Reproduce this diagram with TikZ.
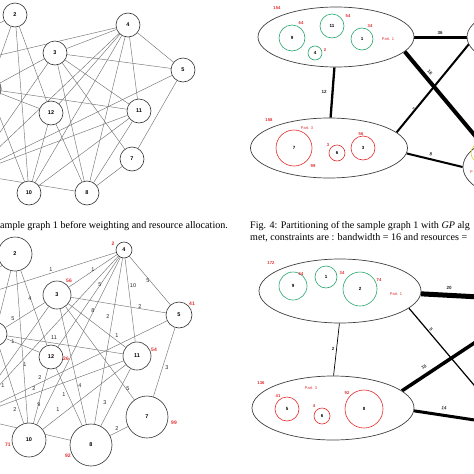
\documentclass[tikz,border=0pt]{standalone}
\usepackage{fontspec}
\setmainfont{Liberation Serif}
\newfontfamily\lsans{Liberation Sans}
\usetikzlibrary{shapes.geometric,backgrounds}
\definecolor{pred}{RGB}{225,45,45}
\definecolor{pgreen}{RGB}{40,165,110}
\definecolor{pyellow}{RGB}{225,205,70}
\definecolor{ecol}{RGB}{115,115,115}
\begin{document}
\begin{tikzpicture}[x=1pt,y=-1pt,
  vtx/.style={circle,draw=black!80,line width=0.6pt,fill=white,inner sep=0pt,minimum size=#1*2pt,font=\lsans\bfseries\fontsize{5.5}{6}\selectfont},
  gedge/.style={draw=ecol,line width=0.45pt},
  wlab/.style={font=\lsans\fontsize{5.5}{6}\selectfont,inner sep=0pt,text=black!85},
  rlab/.style={font=\lsans\bfseries\fontsize{5}{6}\selectfont,inner sep=0pt,text=pred},
  part/.style={ellipse,draw=black!75,line width=0.7pt,fill=white,inner sep=0pt},
  gcirc/.style={circle,draw=pgreen,line width=0.6pt,inner sep=0pt,minimum size=#1*2pt,font=\lsans\bfseries\fontsize{4.5}{5}\selectfont},
  rcirc/.style={circle,draw=pred,line width=0.6pt,inner sep=0pt,minimum size=#1*2pt,font=\lsans\bfseries\fontsize{4.5}{5}\selectfont},
  plab/.style={font=\lsans\bfseries\fontsize{4.2}{5}\selectfont,inner sep=0pt,text=pred},
  ptxt/.style={font=\lsans\fontsize{4}{5}\selectfont,inner sep=0pt,text=pred},
  blab/.style={font=\lsans\bfseries\fontsize{4.5}{5}\selectfont,inner sep=0pt,text=black!85},
  link/.style={draw=black,line width=#1pt},
  capt/.style={font=\fontsize{10.1}{12}\selectfont,inner sep=0pt,anchor=base west}
]
\useasboundingbox (0,0) rectangle (474,474);
\clip (0,0) rectangle (474,474);

% ---------------- upper left graph ----------------
\node[vtx=12] (a2) at (15,15) {2};
\node[vtx=12] (a4) at (128,25) {4};
\node[vtx=12] (a3) at (55,53) {3};
\node[vtx=12] (a5) at (183,70) {5};
\node[vtx=12] (a12) at (51,113) {12};
\node[vtx=12] (a11) at (139,111) {11};
\node[vtx=12] (a7) at (132,159) {7};
\node[vtx=12] (a10) at (29,193) {10};
\node[vtx=12] (a8) at (87,193) {8};
\node[vtx=12,draw=black!55,line width=1.2pt] (a1) at (-11,89) {};
\node[vtx=12] (a9) at (-107,80) {};
\node[vtx=12] (a6) at (-29,174) {};
\begin{pgfonlayer}{background}
\clip (0,0) rectangle (474,474);
\foreach \u/\v in {2/9,2/1,2/10,2/12,4/9,4/3,4/12,4/10,4/8,4/11,4/5,4/6,
  3/5,3/1,3/11,3/8,3/7,3/6,1/12,1/11,1/10,5/6,5/7,11/6,11/8,11/10,12/8,12/10,7/8,6/8}
  \draw[gedge] (a\u) -- (a\v);
\end{pgfonlayer}

% ---------------- lower left graph ----------------
\node[vtx=17] (b2) at (15,254) {2};
\node[vtx=8] (b4) at (124,250) {4};
\node[vtx=14] (b3) at (57,295) {3};
\node[vtx=13] (b5) at (179,315) {5};
\node[vtx=12] (b12) at (51,357) {12};
\node[vtx=14] (b11) at (137,356) {11};
\node[vtx=21] (b7) at (147,417) {7};
\node[vtx=17] (b10) at (29,440) {10};
\node[vtx=21] (b8) at (91,445) {8};
\node[vtx=12] (b1) at (-5,334) {};
\node[vtx=12] (b9) at (-40,302) {};
\node[vtx=12] (b6) at (-30,417) {};
\begin{pgfonlayer}{background}
\clip (0,0) rectangle (474,474);
\foreach \u/\v in {2/9,2/1,2/10,2/12,4/9,4/3,4/12,4/10,4/8,4/11,4/5,4/6,
  3/5,3/1,3/11,3/8,3/7,3/6,1/12,1/11,1/10,5/6,5/7,11/6,11/8,11/10,12/8,12/10,7/8,6/8}
  \draw[gedge] (b\u) -- (b\v);
\end{pgfonlayer}
% resources
\node[rlab] at (113,244) {2};
\node[rlab] at (69,281) {56};
\node[rlab] at (192,304) {41};
\node[rlab] at (154,350) {54};
\node[rlab] at (66,359) {26};
\node[rlab] at (174,423) {99};
\node[rlab] at (68,456) {92};
\node[rlab] at (8,445) {71};
% weights
\node[wlab] at (51,270) {1};
\node[wlab] at (93,270) {1};
\node[wlab] at (100,285) {5};
\node[wlab] at (133,286) {10};
\node[wlab] at (148,281) {5};
\node[wlab] at (140,307) {2};
\node[wlab] at (30,299) {4};
\node[wlab] at (93,311) {8};
\node[wlab] at (108,317) {2};
\node[wlab] at (13,319) {5};
\node[wlab] at (54,338) {11};
\node[wlab] at (13,342) {1};
\node[wlab] at (117,336) {1};
\node[wlab] at (25,365) {1};
\node[wlab] at (40,378) {2};
\node[wlab] at (3,386) {1};
\node[wlab] at (34,389) {2};
\node[wlab] at (80,386) {4};
\node[wlab] at (64,395) {1};
\node[wlab] at (167,368) {3};
\node[wlab] at (128,389) {5};
\node[wlab] at (39,405) {9};
\node[wlab] at (58,410) {1};
\node[wlab] at (15,410) {2};
\node[wlab] at (105,403) {3};
\node[wlab] at (117,429) {2};

% ---------------- upper right partition ----------------
\node[part,minimum width=156pt,minimum height=66pt] (u2) at (545,37) {};
\node[part,minimum width=154pt,minimum height=72pt] (u4) at (540,167) {};
\node[part,minimum width=156pt,minimum height=60pt] (u1) at (336,37) {};
\node[part,minimum width=157pt,minimum height=60pt] (u3) at (329,148) {};
\begin{pgfonlayer}{background}
\clip (0,0) rectangle (474,474);
\draw[link=3] (u1.east) -- (u2.west);
\draw[link=4] (u1.-12) -- (u4.158);
\draw[link=2.3] (u1.-93) -- (u3.87);
\draw[link=2] (u3.13.6) -- (u2.152);
\draw[link=2] (u3.-4) -- (u4.west);
\end{pgfonlayer}
\node[gcirc=13] (u9) at (292,38) {9};
\node[gcirc=12] (u11) at (332,26) {11};
\node[gcirc=11] (uo1) at (362,39) {1};
\node[gcirc=7] (uo4) at (315,53) {4};
\node[plab] at (277,8) {154};
\node[plab] at (301,23) {64};
\node[plab] at (348,16) {54};
\node[plab] at (370,26) {34};
\node[plab] at (325,50) {2};
\node[ptxt] at (388,39) {Part. 1};
\node[rcirc=18] (u7) at (294,148) {7};
\node[rcirc=8] (u6) at (337,153) {6};
\node[rcirc=12] (uo3) at (363,148) {3};
\node[plab] at (269,120) {158};
\node[ptxt] at (307,128) {Part. 3};
\node[plab] at (313,166) {99};
\node[plab] at (328,145) {3};
\node[plab] at (361,134) {56};
\node[circle,draw=pyellow,line width=0.6pt,minimum size=20pt,inner sep=0pt] (uy) at (481,153) {};
\node[ptxt,anchor=west] at (470,172) {P};
\node[blab] at (440,33) {36};
\node[blab,rotate=-49] at (430,72) {16};
\node[blab] at (324,92) {12};
\node[blab,rotate=34] at (414,110) {7};
\node[blab,rotate=-12] at (431,154) {8};

% ---------------- lower right partition ----------------
\node[part,minimum width=160pt,minimum height=70pt] (l2) at (560,297) {};
\node[part,minimum width=160pt,minimum height=72pt] (l4) at (555,420) {};
\node[part,minimum width=162pt,minimum height=64pt] (l1) at (340,291) {};
\node[part,minimum width=162pt,minimum height=64pt] (l3) at (333,408) {};
\begin{pgfonlayer}{background}
\clip (0,0) rectangle (474,474);
\draw[link=5] (l1.-2) -- (l2.180);
\draw[link=1.2] (l1.-14) -- (l4.164);
\draw[link=0.7] (l1.-91) -- (l3.89);
\draw[link=3.5] (l3.14) -- (l2.205);
\draw[link=3] (l3.-2) -- (l4.west);
\end{pgfonlayer}
\node[gcirc=14] (l9) at (293,286) {9};
\node[gcirc=11] (lo1) at (326,277) {1};
\node[gcirc=17] (lo2) at (360,289) {2};
\node[plab] at (271,263) {172};
\node[plab] at (301,274) {64};
\node[plab] at (342,273) {34};
\node[plab] at (379,280) {74};
\node[ptxt] at (396,294) {Part. 1};
\node[rcirc=12] (lo5) at (287,409) {5};
\node[rcirc=8] (lo6) at (322,416) {6};
\node[rcirc=19] (lo8) at (364,409) {8};
\node[plab] at (261,383) {136};
\node[ptxt] at (311,388) {Part. 3};
\node[plab] at (278,396) {41};
\node[plab] at (314,406) {4};
\node[plab] at (347,393) {92};
\node[blab] at (449,288) {20};
\node[blab,rotate=-50] at (431,329) {5};
\node[blab] at (333,349) {2};
\node[blab,rotate=33] at (424,367) {15};
\node[blab,rotate=-8] at (444,408) {14};

% ---------------- captions ----------------
\node[capt] at (0,228) {ample graph 1 before weighting and resource allocation.};
\node[capt] at (250,228) {Fig. 4: Partitioning of the sample graph 1 with \textit{GP} alg};
\node[capt] at (250,240) {met, constraints are : bandwidth = 16 and resources =};
\end{tikzpicture}
\end{document}
